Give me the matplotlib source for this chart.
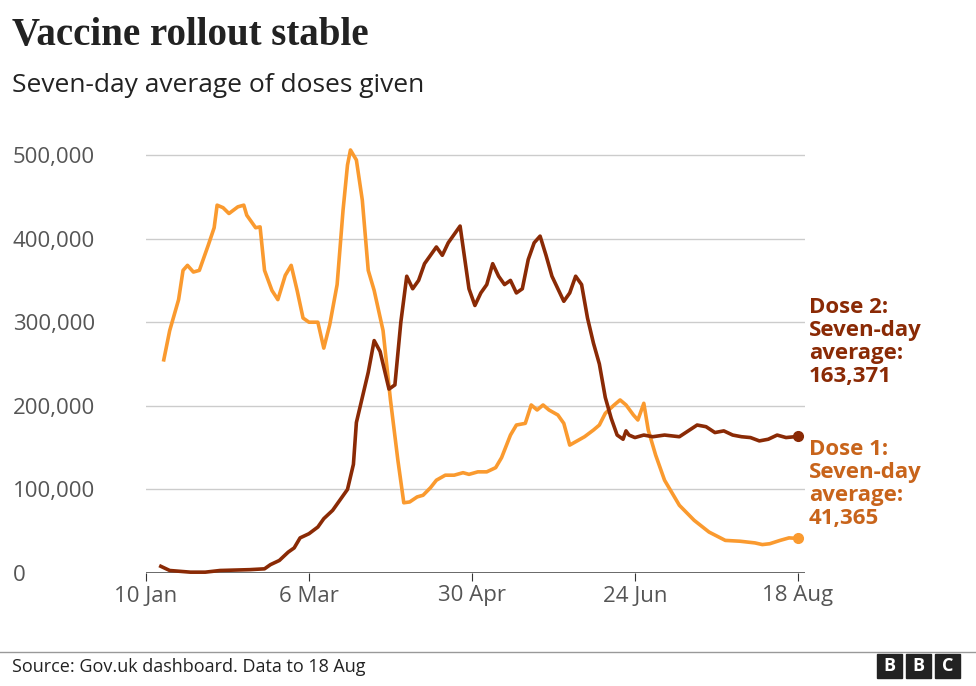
import matplotlib.pyplot as plt
from matplotlib.patches import Rectangle

# days since 10 Jan, values in thousands of doses
dose1_days = [6, 8, 11, 12.5, 14, 16, 18, 21, 23, 24, 26, 28, 31, 33, 34, 37, 38.5, 40, 42.5, 44.5,
              47, 49, 51, 53, 55, 58, 60, 62, 64.5, 66.5, 68, 69, 71, 73, 75, 77, 80, 82.5, 85, 87,
              89, 91.5, 93.5, 96, 98, 101, 104, 107, 109, 112, 115, 118, 120, 123, 125, 128, 130, 132,
              134, 136, 139, 141, 143, 146, 148, 151, 153, 155, 158, 160, 162, 164.5, 166, 168, 169.5,
              172, 175, 180, 185, 190, 195.5, 200.5, 205.5, 208, 210.5, 214, 217, 220]
dose1_vals = [255, 290, 327, 362, 368, 360, 362, 392, 413, 440, 437, 430, 438, 440, 428, 413, 414, 362, 338, 327,
              356, 368, 338, 305, 300, 300, 269, 297, 345, 434, 488, 506, 494, 446, 362, 338, 290, 207, 135, 84,
              85, 91, 93, 102, 111, 117, 117, 120, 118, 121, 121, 126, 138, 165, 177, 179, 201, 195,
              201, 195, 189, 179, 153, 159, 163, 171, 177, 191, 201, 207, 201, 189, 183, 203, 171,
              141, 111, 81, 63, 49, 39, 38, 36, 34, 35, 39, 42, 41.365]

dose2_days = [5, 8, 15, 20, 25, 35, 40, 42, 45, 48, 50, 52, 55, 58, 60, 63, 66, 68, 70, 71, 73, 75, 77,
              79, 81, 82, 84, 86, 88, 90, 92, 94, 96, 98, 100, 102, 104, 106, 107, 109, 111, 113, 115,
              117, 119, 121, 123, 125, 127, 129, 131, 133, 135, 137, 139, 141, 143, 145, 147, 149, 151,
              153, 155, 157, 159, 161, 162, 163, 165, 168, 171, 175, 180, 183, 186, 189, 192, 195, 198,
              201, 204, 207, 210, 213, 216, 220]
dose2_vals = [8, 3, 1, 1, 3, 4, 5, 10, 15, 25, 30, 42, 47, 55, 65, 75, 90, 100, 130, 180, 210, 240, 278,
              265, 235, 220, 225, 300, 355, 340, 350, 370, 380, 390, 380, 395, 405, 415, 390, 340, 320, 335, 345,
              370, 355, 345, 350, 335, 340, 375, 395, 403, 380, 355, 340, 325, 335, 355, 345, 305, 275,
              250, 210, 185, 165, 160, 170, 165, 162, 165, 163, 165, 163, 170, 177, 175, 168, 170, 165,
              163, 162, 158, 160, 165, 162, 163.371]

x_ticks = [0, 55, 110, 165, 220]
x_labels = ["10 Jan", "6 Mar", "30 Apr", "24 Jun", "18 Aug"]
y_ticks = [0, 100000, 200000, 300000, 400000, 500000]

ORANGE = "#fa9a2f"
ORANGE_TXT = "#c8641b"
DARK = "#8a2a05"
GREY = "#555555"

W, H = 976, 686
plt.rcParams["font.family"] = "Open Sans"
fig = plt.figure(figsize=(W / 100, H / 100), dpi=100)

ax = fig.add_axes([146 / W, 1 - 573 / H, (805 - 146) / W, 418 / H * 505 / 500])
ax.set_xlim(0, 222.4)
ax.set_ylim(0, 505000)
for s in ax.spines.values():
    s.set_visible(False)
ax.axhline(0, color="#333333", lw=1.2, zorder=1)
ax.set_yticks(y_ticks)
ax.set_yticklabels([f"{v:,}" for v in y_ticks], fontsize=16, color=GREY, ha="left")
ax.tick_params(axis="y", length=0, pad=96)
ax.grid(axis="y", color="#cccccc", lw=1)
ax.set_xticks(x_ticks)
ax.set_xticklabels(x_labels, fontsize=16, color=GREY)
ax.tick_params(axis="x", length=6, color="#333333", pad=3)

ax.plot(dose1_days, [v * 1000 for v in dose1_vals], color=ORANGE, lw=2.6, clip_on=False, zorder=3)
ax.plot(dose2_days, [v * 1000 for v in dose2_vals], color=DARK, lw=2.6, clip_on=False, zorder=4)
ax.plot(dose1_days[-1], dose1_vals[-1] * 1000, "o", color=ORANGE, ms=7, clip_on=False, zorder=5)
ax.plot(dose2_days[-1], dose2_vals[-1] * 1000, "o", color=DARK, ms=7, clip_on=False, zorder=5)

fig.text(809 / W, 1 - 297 / H, "Dose 2:\nSeven-day\naverage:\n163,371", color=DARK,
         fontsize=16, fontweight="bold", va="top", linespacing=1.12)
fig.text(809 / W, 1 - 439 / H, "Dose 1:\nSeven-day\naverage:\n41,365", color=ORANGE_TXT,
         fontsize=16, fontweight="bold", va="top", linespacing=1.12)

fig.text(12 / W, 1 - 35 / H, "Vaccine rollout stable", fontsize=28, fontweight="bold",
         family="Liberation Serif", va="center", color="#222222")
fig.text(12 / W, 1 - 86 / H, "Seven-day average of doses given", fontsize=19,
         va="center", color="#222222")

fig.add_artist(plt.Line2D([0, 1], [1 - 652 / H] * 2, color="#999999", lw=1))
fig.text(12 / W, 1 - 667 / H, "Source: Gov.uk dashboard. Data to 18 Aug", fontsize=13,
         va="center", color="#222222")
for i, ch in enumerate("BBC"):
    x0 = 877 + i * 29
    fig.add_artist(Rectangle((x0 / W, 1 - 678 / H), 25 / W, 24 / H, color="#222222",
                             transform=fig.transFigure))
    fig.text((x0 + 12.5) / W, 1 - 666 / H, ch, color="white", fontsize=13,
             fontweight="bold", ha="center", va="center")

fig.savefig("out.png", dpi=100)
